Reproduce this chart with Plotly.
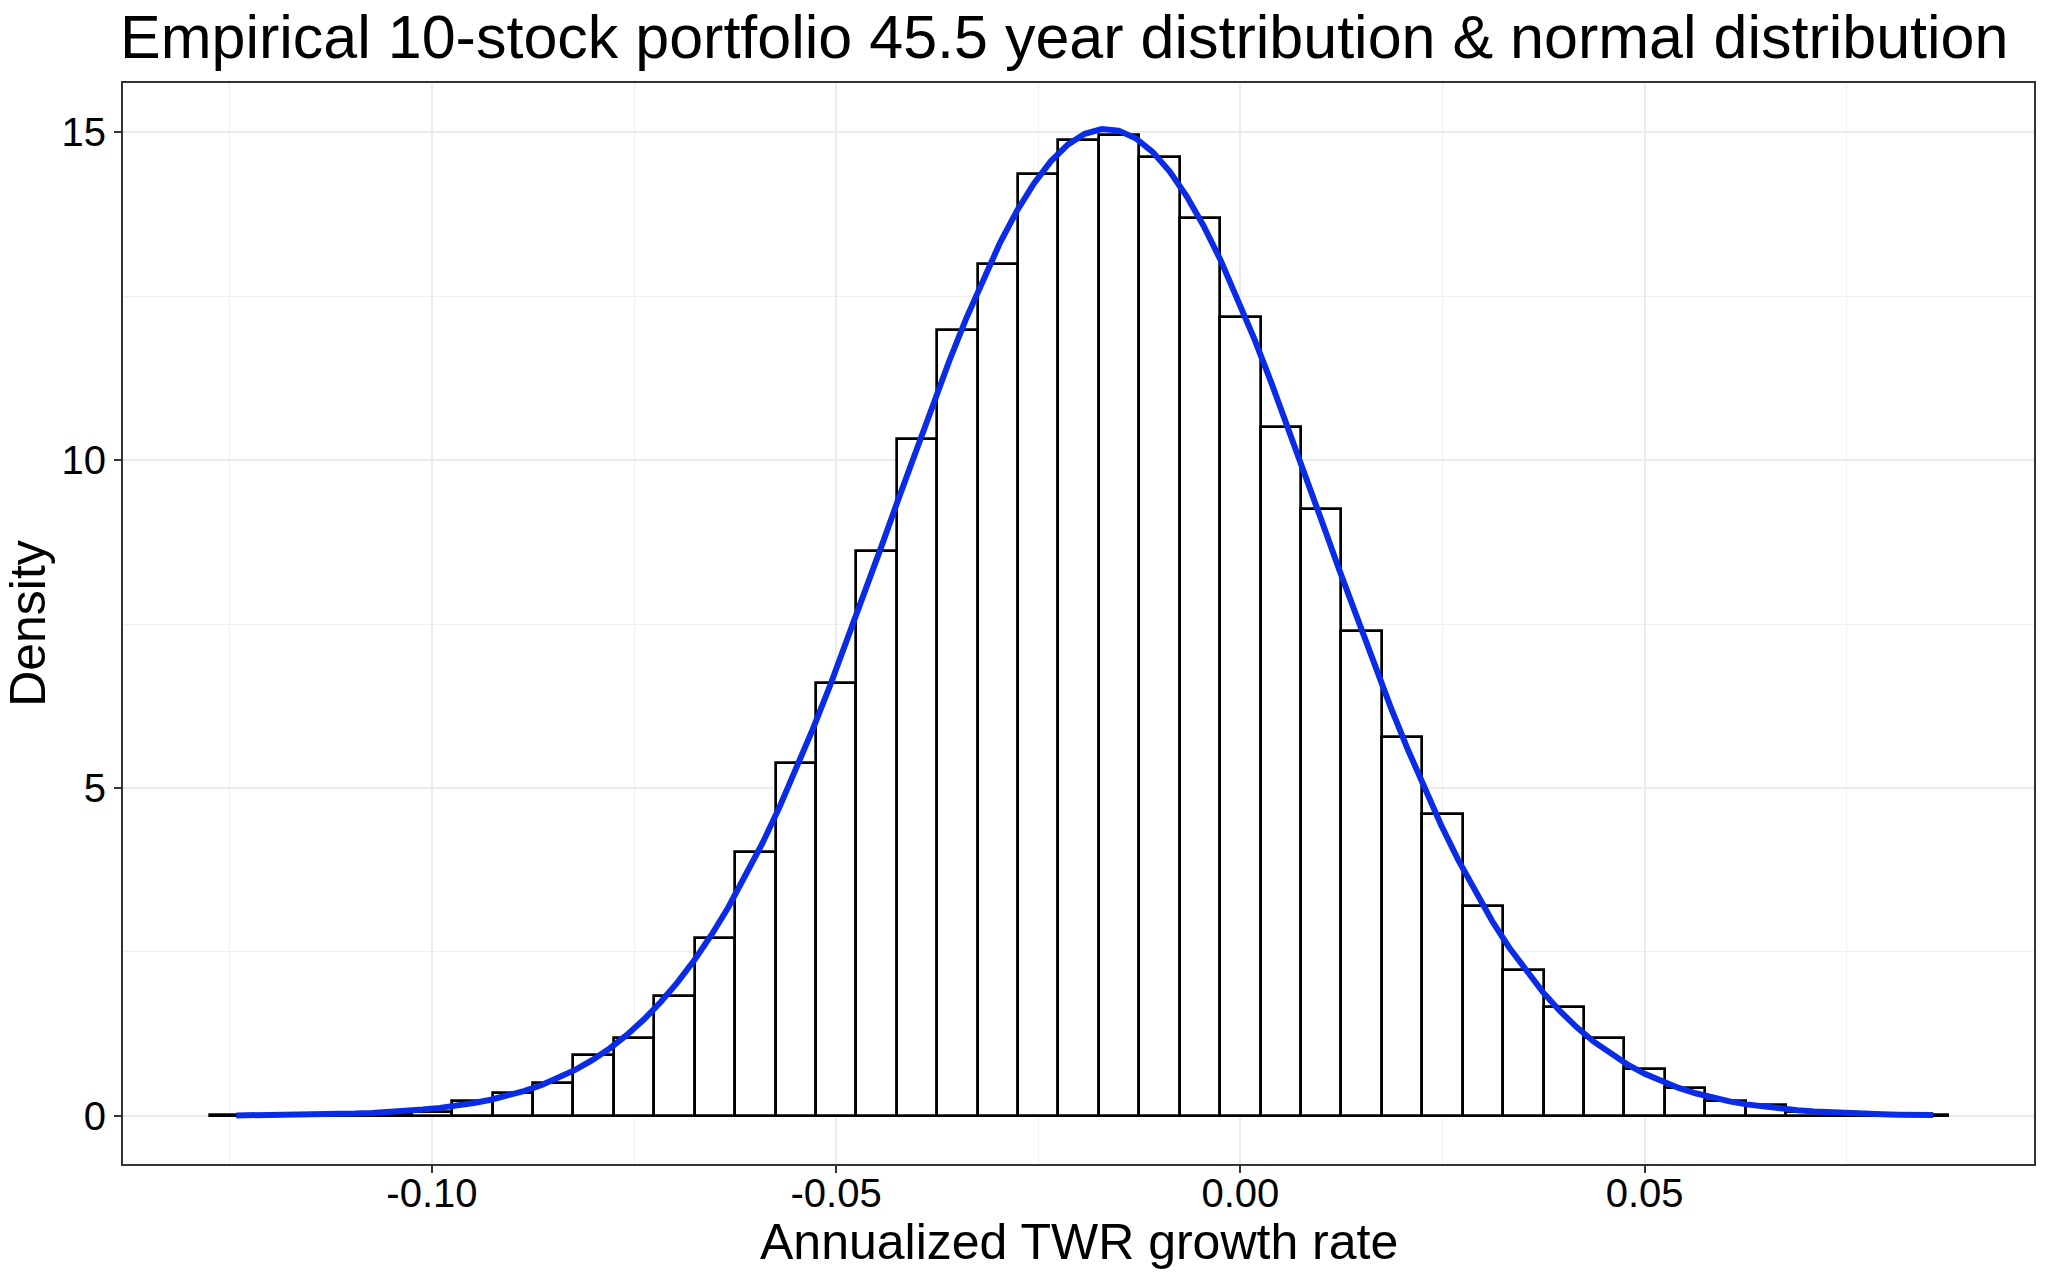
import numpy as np
import plotly.graph_objects as go

# ---- data ----
bin_centers = [-0.125, -0.120, -0.115, -0.110, -0.105, -0.100, -0.095, -0.090, -0.085, -0.080,
               -0.075, -0.070, -0.065, -0.060, -0.055, -0.050, -0.045, -0.040, -0.035, -0.030,
               -0.025, -0.020, -0.015, -0.010, -0.005, 0.000, 0.005, 0.010, 0.015, 0.020,
               0.025, 0.030, 0.035, 0.040, 0.045, 0.050, 0.055, 0.060, 0.065, 0.070,
               0.075, 0.080, 0.085]
density = [0.005, 0.003, 0.008, 0.015, 0.025, 0.06, 0.22, 0.34, 0.50, 0.92,
           1.19, 1.83, 2.71, 4.03, 5.38, 6.60, 8.61, 10.33, 11.98, 13.00,
           14.37, 14.88, 14.96, 14.63, 13.69, 12.18, 10.50, 9.25, 7.40, 5.77,
           4.60, 3.20, 2.22, 1.66, 1.19, 0.71, 0.42, 0.23, 0.17, 0.05,
           0.02, 0.01, 0.005]
bin_width = 0.005

# normal distribution fitted to the data (parameters)
normal_mean = -0.0166
normal_sd = 0.0265
data_min = -0.1242
data_max = 0.0857

x_tickvals = [-0.10, -0.05, 0.00, 0.05]
x_ticktext = ["-0.10", "-0.05", "0.00", "0.05"]
y_tickvals = [0, 5, 10, 15]
y_ticktext = ["0", "5", "10", "15"]

title_text = "Empirical 10-stock portfolio 45.5 year distribution & normal distribution"
x_title = "Annualized TWR growth rate"
y_title = "Density"

# normal density curve (as stat_function(dnorm) would draw it)
xs = np.linspace(data_min, data_max, 101)
ys = np.exp(-0.5 * ((xs - normal_mean) / normal_sd) ** 2) / (normal_sd * np.sqrt(2 * np.pi))

FONT = "Liberation Sans, Arial, Helvetica, sans-serif"

W, H = 2048, 1280
ML, MR, MT, MB = 120, 13, 83, 116
plot_h = H - MT - MB

fig = go.Figure()
fig.add_trace(go.Bar(
    x=bin_centers, y=density, width=bin_width,
    marker=dict(color="white", line=dict(color="black", width=2.7)),
    hoverinfo="x+y", showlegend=False,
))
fig.add_trace(go.Scatter(
    x=xs, y=ys, mode="lines",
    line=dict(color="#0a2ce8", width=6),
    showlegend=False,
))

fig.update_layout(
    width=W, height=H,
    margin=dict(l=ML, r=MR, t=MT, b=MB),
    paper_bgcolor="white", plot_bgcolor="white",
    bargap=0,
    font=dict(family=FONT, color="black"),
    title=dict(
        text=title_text, font=dict(size=61, color="black", family=FONT),
        x=ML / W, xanchor="left", xref="container",
        y=1 - 37 / H, yanchor="middle", yref="container",
    ),
    annotations=[dict(
        text=x_title, font=dict(size=50, color="black", family=FONT),
        xref="paper", yref="paper", x=0.5, xanchor="center",
        y=-(1242 - (H - MB)) / plot_h, yanchor="middle", showarrow=False,
    )],
)

fig.update_xaxes(
    range=[-0.13821, 0.09817],
    tickvals=x_tickvals, ticktext=x_ticktext,
    tickfont=dict(size=40, color="black", family=FONT),
    ticks="outside", ticklen=7, tickwidth=2, tickcolor="#333333",
    ticklabelstandoff=-14,
    showgrid=True, gridcolor="#EBEBEB", gridwidth=2,
    minor=dict(dtick=0.025, tick0=-0.125, showgrid=True, gridcolor="#EFEFEF", gridwidth=1, ticks=""),
    showline=True, linecolor="#333333", linewidth=2, mirror=True,
    zeroline=False,
)
fig.update_yaxes(
    range=[-0.737, 15.755],
    tickvals=y_tickvals, ticktext=y_ticktext,
    tickfont=dict(size=40, color="black", family=FONT),
    ticks="outside", ticklen=7, tickwidth=2, tickcolor="#333333",
    showgrid=True, gridcolor="#EBEBEB", gridwidth=2,
    minor=dict(dtick=2.5, tick0=0, showgrid=True, gridcolor="#EFEFEF", gridwidth=1, ticks=""),
    showline=True, linecolor="#333333", linewidth=2, mirror=True,
    zeroline=False,
    title=dict(text=y_title, font=dict(size=50, color="black", family=FONT), standoff=14),
)

fig.write_html("out.html")
